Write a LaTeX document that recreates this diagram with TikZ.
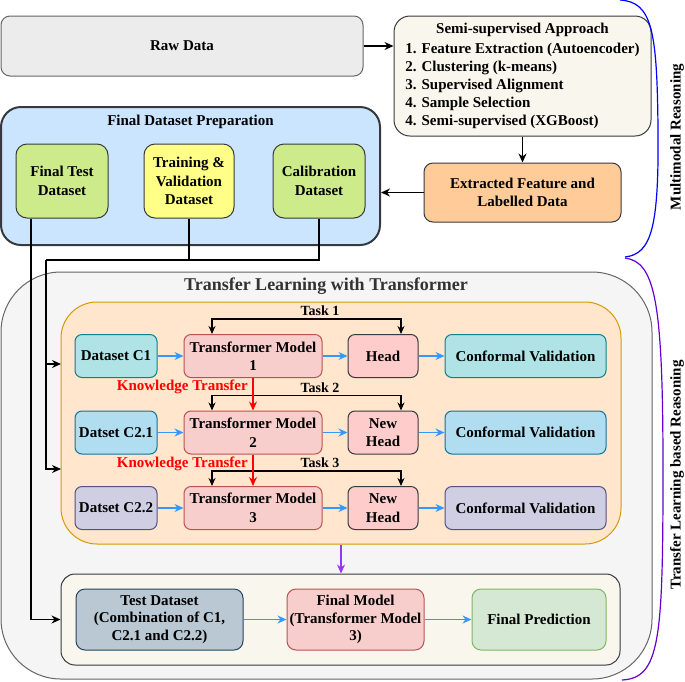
\documentclass[tikz,border=0pt]{standalone}
\usepackage{fontspec}
\setmainfont{Liberation Serif}
\usetikzlibrary{arrows.meta,calc,positioning}
\definecolor{rawfill}{HTML}{ECECEC}
\definecolor{rawline}{HTML}{666666}
\definecolor{darkline}{HTML}{36393D}
\definecolor{creamfill}{HTML}{F9F7ED}
\definecolor{orangefill}{HTML}{FFCC99}
\definecolor{prepfill}{HTML}{CCE5FF}
\definecolor{limefill}{HTML}{CDEB8B}
\definecolor{yellowfill}{HTML}{FFFF88}
\definecolor{outerfill}{HTML}{F5F5F5}
\definecolor{outerline}{HTML}{666666}
\definecolor{taskfill}{HTML}{FFE6CC}
\definecolor{taskline}{HTML}{D79B00}
\definecolor{dsa}{HTML}{B0E3E6}
\definecolor{dsaline}{HTML}{0E8088}
\definecolor{dsb}{HTML}{B1DDF0}
\definecolor{dsbline}{HTML}{10739E}
\definecolor{dsc}{HTML}{D0CEE2}
\definecolor{dscline}{HTML}{56517E}
\definecolor{tmfill}{HTML}{F8CECC}
\definecolor{tmline}{HTML}{B85450}
\definecolor{headfill}{HTML}{FFCCCC}
\definecolor{testfill}{HTML}{BAC8D3}
\definecolor{testline}{HTML}{23445D}
\definecolor{predfill}{HTML}{D5E8D4}
\definecolor{predline}{HTML}{82B366}
\definecolor{flowblue}{HTML}{3399FF}
\definecolor{flowpurple}{HTML}{9933FF}
\definecolor{braceblue}{HTML}{0000FF}
\definecolor{bracepurple}{HTML}{6600CC}
\definecolor{titlegray}{HTML}{333333}

\tikzset{
  txt/.style={font=\fontsize{15}{18.5}\selectfont\bfseries, align=center, inner sep=0pt},
  blk/.style={txt, draw=darkline, line width=1pt, rounded corners=#1},
  blk/.default=9pt,
  conn/.style={line width=1.3pt, -{Stealth[length=9pt,width=8pt]}},
  flow/.style={line width=1.3pt, flowblue, -{Stealth[length=9pt,width=8pt]}},
  tk/.style={line width=1.3pt, {Stealth[length=8pt,width=7pt]}-{Stealth[length=8pt,width=7pt]}},
}

\begin{document}
\begin{tikzpicture}[x=1pt,y=-1pt]
  \useasboundingbox (0,0) rectangle (685,681);
  % top row
  \node[blk, fill=rawfill, draw=rawline, minimum width=362pt, minimum height=60pt] (raw) at (182,46) {Raw Data};
  \node[blk=16pt, fill=creamfill, font=\fontsize{15}{18}\selectfont\bfseries, minimum width=257pt, minimum height=120pt] (semi) at (522.5,76)
    {\begin{tabular}{@{}l@{}}\multicolumn{1}{c}{Semi-supervised Approach}\\[2pt]
     1. Feature Extraction (Autoencoder)\\ 2. Clustering (k-means)\\ 3. Supervised Alignment\\
     4. Sample Selection\\ 4. Semi-supervised (XGBoost)\end{tabular}};
  \node[blk, fill=orangefill, minimum width=197pt, minimum height=59pt] (ext) at (522.5,192.5) {Extracted Feature and\\Labelled Data};
  \draw[conn] (raw.east) -- (semi.west |- raw.east);
  \draw[conn] (semi.south) -- (ext.north);

  % dataset preparation
  \node[blk=20pt, fill=prepfill, line width=2pt, minimum width=379pt, minimum height=138pt] (prep) at (190.5,176) {};
  \node[txt] (prephd) at (190.5,122) {Final Dataset Preparation};
  \node[blk=11pt, fill=limefill, minimum width=92pt, minimum height=74pt] (ftest) at (62,181) {Final Test\\Dataset};
  \node[blk=11pt, fill=yellowfill, minimum width=90pt, minimum height=74pt] (train) at (189,181) {Training \&\\Validation\\Dataset};
  \node[blk=11pt, fill=limefill, minimum width=92pt, minimum height=74pt] (calib) at (319,181) {Calibration\\Dataset};
  \draw[conn] (ext.west) -- (prep.east |- ext.west);

  % transfer learning
  \node[blk=60pt, fill=outerfill, draw=outerline, minimum width=651pt, minimum height=407pt] (tlbox) at (326.5,475.5) {};
  \node[txt, font=\fontsize{18}{20}\selectfont\bfseries, text=titlegray] (tlhd) at (326,286) {Transfer Learning with Transformer};
  \node[blk=36pt, fill=taskfill, draw=taskline, minimum width=560pt, minimum height=242pt] (taskbox) at (341,423) {};
  \foreach \i/\y/\ds/\dsf/\dsd/\hd in {1/356/Dataset C1/dsa/dsaline/Head, 2/432.5/Datset C2.1/dsb/dsbline/New\\Head, 3/508/Datset C2.2/dsc/dscline/New\\Head}{
    \node[blk=7pt, fill=\dsf, draw=\dsd, minimum width=82pt, minimum height=43pt] (ds\i) at (116,\y) {\ds};
    \node[blk=7pt, fill=tmfill, draw=tmline, minimum width=138pt, minimum height=43pt] (tm\i) at (253,\y) {Transformer Model\\\i};
    \node[blk=7pt, fill=headfill, minimum width=70pt, minimum height=43pt] (hd\i) at (383,\y) {\hd};
    \node[blk=7pt, fill=\dsf, draw=\dsd, minimum width=161pt, minimum height=43pt] (cv\i) at (525.5,\y) {Conformal Validation};
    \draw[flow] (ds\i) -- (tm\i);
    \draw[flow] (tm\i) -- (hd\i);
    \draw[flow] (hd\i) -- (cv\i);
    \draw[tk] ($(tm\i.north)+(-41,0)$) -- ++(0,-15) -| ($(hd\i.north)+(18,0)$);
    \node[txt, font=\fontsize{14}{16}\selectfont\bfseries] (tk\i) at ($(tm\i.north)+(67,-23)$) {Task \i};
  }
  \foreach \i/\j in {1/2,2/3}{
    \draw[line width=1.3pt, red, -{Stealth[length=9pt,width=8pt]}] (tm\i.south) -- (tm\j.north);
    \node[txt, text=red, anchor=east] (kt\i) at ($(tm\i.south)+(-5,9)$) {Knowledge Transfer};
  }

  % inference
  \node[blk=14pt, fill=creamfill, minimum width=559pt, minimum height=91pt] (infbox) at (340.5,619.5) {};
  \node[blk, fill=testfill, draw=testline, font=\fontsize{15}{17.5}\selectfont\bfseries, minimum width=167pt, minimum height=61pt] (test) at (159.5,619.5) {Test Dataset\\(Combination of C1,\\C2.1 and C2.2)};
  \node[blk, fill=tmfill, draw=tmline, font=\fontsize{15}{17.5}\selectfont\bfseries, minimum width=137pt, minimum height=61pt] (final) at (355.5,619.5) {Final Model\\(Transformer Model\\3)};
  \node[blk, fill=predfill, draw=predline, minimum width=134pt, minimum height=61pt] (pred) at (539,619.5) {Final Prediction};
  \draw[flow] (test) -- (final);
  \draw[flow] (final) -- (pred);
  \draw[line width=1.3pt, flowpurple, -{Stealth[length=9pt,width=8pt]}] (taskbox.south) -- (taskbox.south |- infbox.north);

  % dataset links
  \coordinate (bus) at (46,260);
  \coordinate (in1) at (61,364);
  \coordinate (in2) at (61,469);
  \draw[line width=1.3pt] (train.south) -- (train.south |- bus);
  \draw[line width=1.3pt] (calib.south) |- (bus);
  \draw[conn] (bus) |- (in2);
  \draw[conn] (bus |- in1) -- (in1);
  \draw[conn] ($(ftest.south)+(-31,0)$) |- (infbox.west);

  % side braces
  \draw[line width=1.2pt, braceblue] (620,0) .. controls (652,2) and (657,30) .. (658,128) .. controls (659,226) and (652,254) .. (625,257);
  \draw[line width=1.2pt, bracepurple] (625,258) .. controls (655,262) and (663,300) .. (663,470) .. controls (663,640) and (660,678) .. (622,680);
  \node[txt, rotate=90] (mmlbl) at (677,137) {Multimodal Reasoning};
  \node[txt, rotate=90] (tllbl) at (677,475) {Transfer Learning based Reasoning};
\end{tikzpicture}
\end{document}
